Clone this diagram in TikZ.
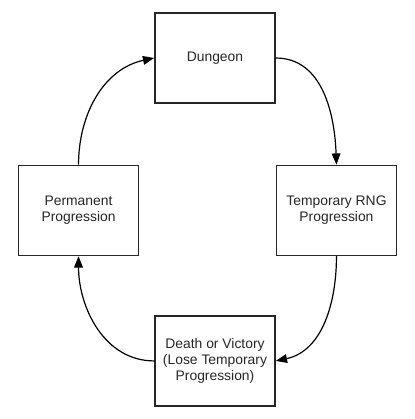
\documentclass[tikz,border=0pt]{standalone}
\usepackage{fontspec}
\setmainfont{Liberation Sans}
\usetikzlibrary{arrows.meta,positioning}

\begin{document}
\begin{tikzpicture}[
  font=\fontsize{10.4}{12}\selectfont,
  >={Triangle[length=8.5pt, width=6.5pt]},
  box/.style={draw=black!85, line width=1.1pt, align=center, inner sep=3pt, minimum width=90pt, minimum height=67.5pt, text=black!85},
  arrow/.style={->, line width=0.9pt}
]
\useasboundingbox (0pt,0pt) rectangle (311.25pt,-314.25pt);

\node[box] (dungeon) at (161.25pt,-43.5pt) {Dungeon};
\node[box, below right=45.75pt and 0pt of dungeon] (temp) {Temporary RNG\\Progression};
\node[box, below left=44.25pt and 0pt of temp] (death) {Death or Victory\\(Lose Temporary\\Progression)};
\node[box, above left=44.25pt and 11.25pt of death] (perm) {Permanent\\Progression};

% the cycle, clockwise
\draw[arrow] (dungeon.east) to[out=0,in=92] (temp.north);
\draw[arrow] (temp.south) to[out=-90,in=12] (death.east);
\draw[arrow] (death.west) to[out=180,in=-90] (perm.south);
\draw[arrow] (perm.north) to[out=90,in=192] (dungeon.west);
\end{tikzpicture}
\end{document}
